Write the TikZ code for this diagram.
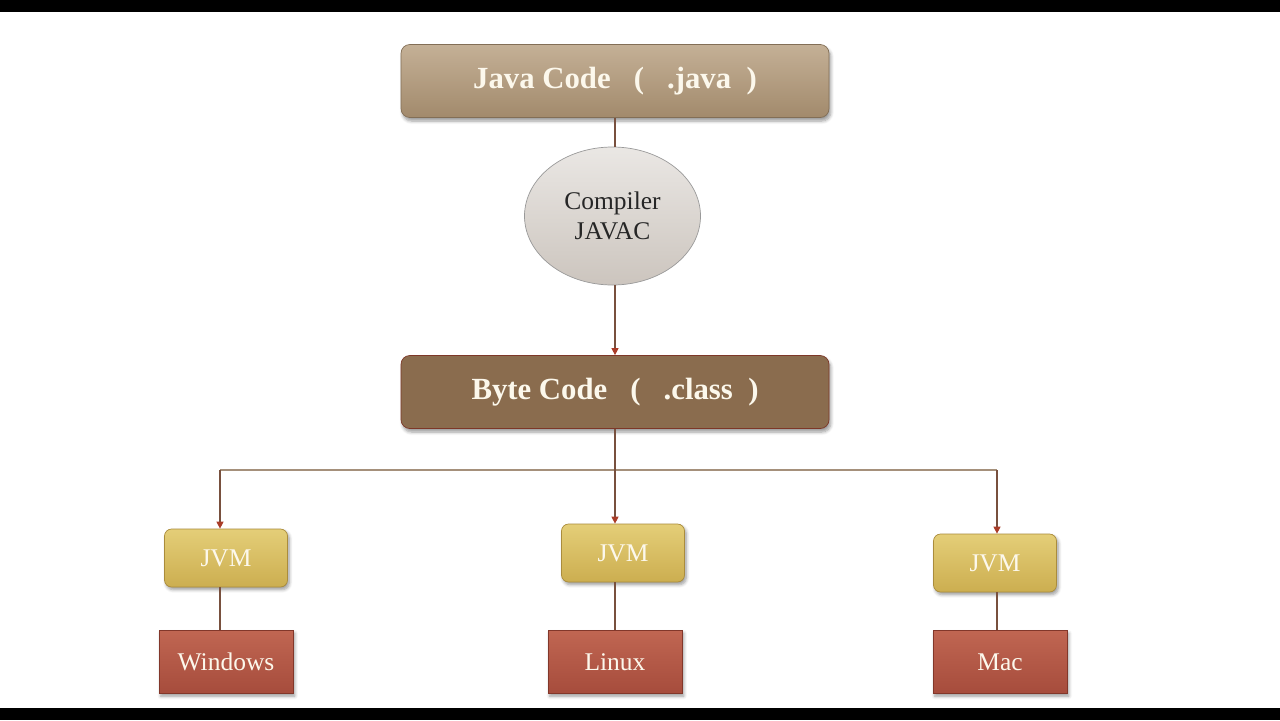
\documentclass[tikz,border=0pt]{standalone}
\usepackage{fontspec}
\setmainfont{Liberation Serif}
\usepackage{tikz}
\usetikzlibrary{positioning, arrows.meta, shapes.geometric, calc, shadows.blur}
\definecolor{javatop}{RGB}{196, 176, 150}
\definecolor{javabot}{RGB}{162, 138, 108}
\definecolor{bytefill}{RGB}{138, 108, 78}
\definecolor{byteedge}{RGB}{125, 55, 40}
\definecolor{jvmtop}{RGB}{228, 206, 120}
\definecolor{jvmbot}{RGB}{204, 174, 80}
\definecolor{jvmedge}{RGB}{170, 140, 60}
\definecolor{ostop}{RGB}{192, 102, 82}
\definecolor{osbot}{RGB}{166, 76, 60}
\definecolor{osedge}{RGB}{130, 55, 42}
\definecolor{ovaltop}{RGB}{234, 231, 228}
\definecolor{ovalbot}{RGB}{204, 197, 190}
\definecolor{cream}{RGB}{252, 248, 236}
\definecolor{wire}{RGB}{120, 80, 62}
\definecolor{tip}{RGB}{170, 60, 40}

\begin{document}
\begin{tikzpicture}[
        codebox/.style = {rounded corners=5pt, minimum height=14.6mm, minimum width=85.6mm, align=center,
                          font=\fontsize{17.5}{20}\selectfont\bfseries, text=cream,
                          blur shadow={shadow xshift=1pt, shadow yshift=-2pt, shadow blur steps=6}},
        javabox/.style = {codebox, draw=javabot!80!black, top color=javatop, bottom color=javabot},
        bytebox/.style = {codebox, draw=byteedge, fill=bytefill},
        compiler/.style = {ellipse, draw=black!40, top color=ovaltop, bottom color=ovalbot,
                           minimum width=35.2mm, minimum height=27.6mm, align=center,
                           font=\fontsize{14.5}{17}\selectfont, text=black!85},
        jvm/.style = {draw=jvmedge, rounded corners=4pt, top color=jvmtop, bottom color=jvmbot,
                      minimum width=24.6mm, minimum height=11.6mm, text=cream,
                      font=\fontsize{14.5}{16}\selectfont,
                      blur shadow={shadow xshift=1pt, shadow yshift=-1.5pt, shadow blur steps=5}},
        os/.style = {draw=osedge, top color=ostop, bottom color=osbot,
                     minimum width=26.8mm, minimum height=12.6mm, text=cream,
                     font=\fontsize{14.5}{16}\selectfont,
                     blur shadow={shadow xshift=1pt, shadow yshift=-1.5pt, shadow blur steps=5}},
        link/.style = {draw=wire, line width=0.6pt},
        arrow/.style = {link, -{Triangle[length=4pt, width=4pt, color=tip]}},
    ]
        \useasboundingbox (0,0) rectangle (25.6,-14.4);
        % letterbox bars
        \fill[black] (0,0) rectangle (25.6,-0.24);
        \fill[black] (0,-14.16) rectangle (25.6,-14.4);

        \node[javabox] (java) at (12.3,-1.62) {Java Code~~ (~~ .java~ )};
        \node[compiler] (javac) at (12.25,-4.32) {Compiler\\JAVAC};
        \node[bytebox] (byte) at (12.3,-7.84) {Byte Code~~ (~~ .class~ )};

        \node[jvm] (jvm1) at (4.52,-11.16) {JVM};
        \node[jvm] (jvm2) at (12.46,-11.06) {JVM};
        \node[jvm] (jvm3) at (19.9,-11.26) {JVM};

        \node[os] (win) at (4.52,-13.24) {Windows};
        \node[os] (lin) at (12.3,-13.24) {Linux};
        \node[os] (mac) at (20.0,-13.24) {Mac};

        \coordinate (bl) at (4.4,-9.4);
        \coordinate (br) at (19.94,-9.4);

        \draw[link] (java.south) -- (java.south |- javac.north);
        \draw[arrow] (javac.south -| java.south) -- (byte.north);
        \draw[link, draw=black!45!brown!60] (bl) -- (br);
        \draw[arrow] (byte.south) -- (byte.south |- jvm2.north);
        \draw[arrow] (bl) -- (bl |- jvm1.north);
        \draw[arrow] (br) -- (br |- jvm3.north);
        \draw[link] (bl |- jvm1.south) -- (bl |- win.north);
        \draw[link] (lin.north |- jvm2.south) -- (lin.north);
        \draw[link] (br |- jvm3.south) -- (br |- mac.north);
    \end{tikzpicture}
\end{document}
